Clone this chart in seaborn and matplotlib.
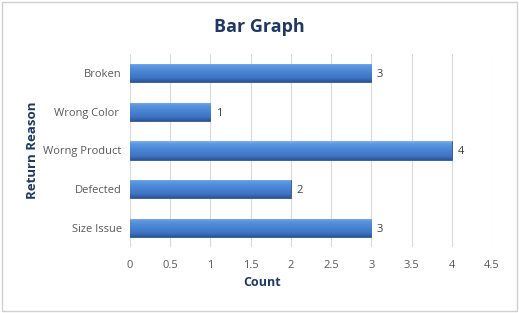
import matplotlib
matplotlib.use("Agg")
import matplotlib.pyplot as plt
import seaborn as sns
import numpy as np
import pandas as pd
from matplotlib.patches import Rectangle
from matplotlib.colors import LinearSegmentedColormap

reasons = ["Broken", "Wrong Color ", "Worng Product", "Defected", "Size Issue"]
counts = [3, 1, 4, 2, 3]
xticks = [0, 0.5, 1, 1.5, 2, 2.5, 3, 3.5, 4, 4.5]
xtick_labels = ["0", "0.5", "1", "1.5", "2", "2.5", "3", "3.5", "4", "4.5"]

df = pd.DataFrame({"Return Reason": reasons, "Count": counts})

sns.set_theme(style="white")
plt.rcParams["font.family"] = ["Open Sans", "DejaVu Sans"]

fig = plt.figure(figsize=(5.19, 3.13), dpi=100)
ax = fig.add_axes([0.2505, 0.21, 0.6975, 0.619])

sns.barplot(data=df, x="Count", y="Return Reason", orient="h", color="#4472C4",
            width=0.47, ax=ax, edgecolor="#2F5597", linewidth=0.6)

cmap = LinearSegmentedColormap.from_list(
    "bevel", [(0.0, "#7DB0EE"), (0.15, "#5C97E2"), (0.45, "#4A85D4"),
              (0.8, "#3D73C2"), (1.0, "#2B5697")])
grad = np.linspace(0, 1, 64).reshape(-1, 1)
for p in ax.patches:
    x0, y0 = p.get_x(), p.get_y()
    w, h = p.get_width(), p.get_height()
    im = ax.imshow(grad, cmap=cmap, aspect="auto",
                   extent=(x0, x0 + w, y0 + h, y0), zorder=p.get_zorder() + 0.1)
    im.set_clip_path(p)

for i, v in enumerate(counts):
    ax.text(v + 0.07, i, str(v), va="center_baseline", ha="left", fontsize=8,
            color="#404040")

ax.set_xlim(0, 4.5)
ax.set_ylim(4.5, -0.5)
ax.set_xticks(xticks)
ax.set_xticklabels(xtick_labels)
ax.xaxis.grid(True, color="#D9D9D9", linewidth=0.8)
ax.set_axisbelow(True)
for s in ax.spines.values():
    s.set_visible(False)
ax.tick_params(axis="both", length=0, labelsize=8, colors="#595959", pad=6)
ax.tick_params(axis="x", pad=9)

ax.set_xlabel("")
ax.set_ylabel("")
fig.text(262 / 519, 1 - 283 / 313, "Count", ha="center", va="center", fontsize=9,
         fontweight="bold", color="#1F3864")
fig.text(33 / 519, 1 - 150 / 313, "Return Reason", ha="center", va="center",
         rotation=90, fontsize=9.5, fontweight="bold", color="#1F3864")

fig.text(0.5, 1 - 27 / 313, "Bar Graph", ha="center", va="center", fontsize=13,
         fontweight="bold", color="#1F3864")

fig.patches.append(Rectangle((0.004, 0.006), 0.992, 0.988, transform=fig.transFigure,
                             fill=False, edgecolor="#D0D0D0", linewidth=1))

fig.savefig("out.png", dpi=100)
